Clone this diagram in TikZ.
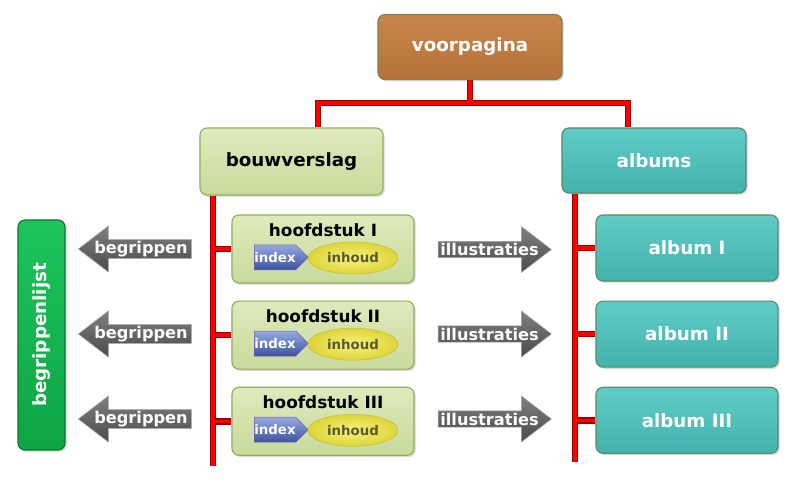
\documentclass[tikz,border=0pt]{standalone}
\usepackage{fontspec}
\setmainfont{DejaVu Sans}
\usetikzlibrary{shapes,arrows.meta,positioning,shadows}
\definecolor{brownlight}{RGB}{200,134,76}
\definecolor{browndark}{RGB}{180,114,58}
\definecolor{brownedge}{RGB}{128,132,80}
\definecolor{olivelight}{RGB}{222,234,188}
\definecolor{olivedark}{RGB}{200,218,156}
\definecolor{oliveedge}{RGB}{150,172,96}
\definecolor{teallight}{RGB}{96,204,200}
\definecolor{tealdark}{RGB}{68,178,172}
\definecolor{tealedge}{RGB}{92,140,100}
\definecolor{listlight}{RGB}{30,196,92}
\definecolor{listdark}{RGB}{14,164,68}
\definecolor{listedge}{RGB}{10,120,52}
\definecolor{graylight}{RGB}{128,128,128}
\definecolor{graydark}{RGB}{74,74,74}
\definecolor{grayedge}{RGB}{160,160,160}
\definecolor{indexlight}{RGB}{150,170,224}
\definecolor{indexdark}{RGB}{60,82,160}
\definecolor{indexedge}{RGB}{126,94,180}
\definecolor{yellowlight}{RGB}{246,242,130}
\definecolor{yellowdark}{RGB}{222,212,56}
\definecolor{yellowedge}{RGB}{200,190,58}
\definecolor{inhoudtext}{RGB}{92,90,42}
\definecolor{bardark}{RGB}{150,0,0}

\begin{document}
\begin{tikzpicture}[
    x=0.025cm, y=-0.025cm,
    basebox/.style={rectangle, rounded corners=5pt, thick, align=center,
        font=\fontsize{13}{15}\selectfont\bfseries,
        drop shadow={opacity=0.3, shadow xshift=1.2pt, shadow yshift=-1.2pt}},
    topbox/.style={basebox, draw=brownedge, top color=brownlight, bottom color=browndark,
        text=white, minimum width=4.6cm, minimum height=1.625cm},
    mainbox/.style={basebox, draw=oliveedge, top color=olivelight, bottom color=olivedark,
        minimum width=4.575cm, minimum height=1.675cm},
    chapbox/.style={basebox, draw=oliveedge, top color=olivelight, bottom color=olivedark,
        minimum width=4.55cm, minimum height=1.7cm},
    albumbox/.style={basebox, draw=tealedge, top color=teallight, bottom color=tealdark,
        text=white, minimum width=4.55cm, minimum height=1.65cm},
    listbox/.style={basebox, draw=listedge, top color=listlight, bottom color=listdark,
        text=white, minimum width=5.75cm, minimum height=1.175cm, rotate=90},
    chaptitle/.style={font=\fontsize{12}{14}\selectfont\bfseries, inner sep=0pt},
    indexsig/.style={signal, signal to=east, draw=indexedge, top color=indexlight,
        bottom color=indexdark, text=white, minimum width=1.3cm, minimum height=0.625cm,
        inner sep=0pt, font=\fontsize{9.5}{11}\selectfont\bfseries},
    inhoudell/.style={ellipse, draw=yellowedge, inner color=yellowlight, outer color=yellowdark,
        text=inhoudtext, minimum width=2.25cm, minimum height=0.8cm, inner sep=0pt,
        font=\fontsize{9.5}{11}\selectfont\bfseries},
    grayarrow/.style={single arrow, draw=grayedge, top color=graylight, bottom color=graydark,
        text=white, minimum height=2.825cm, minimum width=1.15cm, inner sep=0pt,
        single arrow head extend=0.3cm, single arrow tip angle=75,
        font=\fontsize{11.5}{13}\selectfont\bfseries},
    redbar/.style={draw=red, line width=2.4pt, preaction={draw=bardark, line width=4.6pt}}
]
\useasboundingbox[fill=white] (0,0) rectangle (800,479);

% top levels
\node[topbox] (voor) at (470,47) {voorpagina};
\node[mainbox] (bouw) at (291.5,161.5) {bouwverslag};
\node[albumbox, minimum width=4.6cm, minimum height=1.625cm] (albums) at (654,160.5) {albums};

% chapters
\node[chapbox] (hs1) at (323,249) {};
\node[chapbox, below=0.425cm of hs1] (hs2) {};
\node[chapbox, below=0.425cm of hs2] (hs3) {};

\node[chaptitle, yshift=0.475cm] (ttl1) at (hs1) {hoofdstuk I};
\node[chaptitle, yshift=0.475cm] (ttl2) at (hs2) {hoofdstuk II};
\node[chaptitle, yshift=0.475cm] (ttl3) at (hs3) {hoofdstuk III};

\node[indexsig, xshift=-1.2cm, yshift=-0.21cm] (idx1) at (hs1) {index};
\node[indexsig, xshift=-1.2cm, yshift=-0.21cm] (idx2) at (hs2) {index};
\node[indexsig, xshift=-1.2cm, yshift=-0.21cm] (idx3) at (hs3) {index};

\node[inhoudell, xshift=0.75cm, yshift=-0.225cm] (inh1) at (hs1) {inhoud};
\node[inhoudell, xshift=0.75cm, yshift=-0.225cm] (inh2) at (hs2) {inhoud};
\node[inhoudell, xshift=0.75cm, yshift=-0.225cm] (inh3) at (hs3) {inhoud};

% albums
\node[albumbox] (alb1) at (687,248) {album I};
\node[albumbox, below=0.475cm of alb1] (alb2) {album II};
\node[albumbox, below=0.475cm of alb2] (alb3) {album III};

% side arrows
\node[grayarrow, shape border rotate=180] (beg1) at (141,249) {begrippen};
\node[grayarrow, shape border rotate=180] (beg2) at (141,334) {begrippen};
\node[grayarrow, shape border rotate=180] (beg3) at (141,419) {begrippen};
\node[grayarrow] (ill1) at (489.5,249.5) {illustraties};
\node[grayarrow] (ill2) at (489.5,334) {illustraties};
\node[grayarrow] (ill3) at (489.5,419) {illustraties};

\node[listbox] (lijst) at (41.5,335) {begrippenlijst};

% red bars
\coordinate (jl) at (318,103);
\coordinate (jr) at (628,103);
\coordinate (lbar) at (213,466);
\coordinate (rbar) at (575,462);
\draw[redbar] (voor.south) -- (voor.south |- jl)
    (bouw.north -| jl) -- (jl) -- (jr) -- (jr |- albums.north)
    (bouw.south -| lbar) -- (lbar)
    (hs1.west -| lbar) -- (hs1.west)
    (hs2.west -| lbar) -- (hs2.west)
    (hs3.west -| lbar) -- (hs3.west)
    (albums.south -| rbar) -- (rbar)
    (alb1.west -| rbar) -- (alb1.west)
    (alb2.west -| rbar) -- (alb2.west)
    (alb3.west -| rbar) -- (alb3.west);
\end{tikzpicture}
\end{document}
